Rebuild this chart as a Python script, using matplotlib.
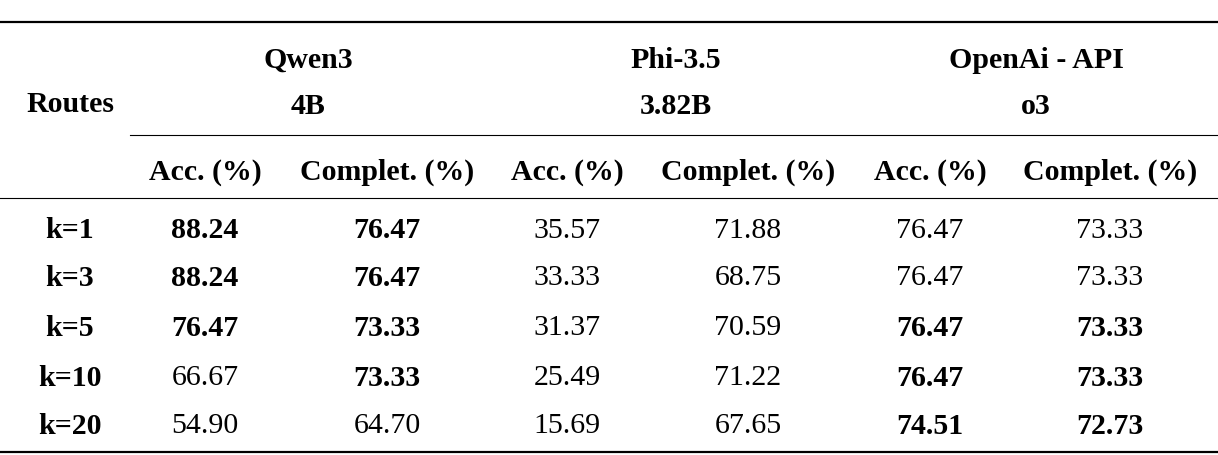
import matplotlib
matplotlib.use("Agg")
import matplotlib.pyplot as plt

routes = ["k=1", "k=3", "k=5", "k=10", "k=20"]
models = ["Qwen3", "Phi-3.5", "OpenAi - API"]
sizes = ["4B", "3.82B", "o3"]
sub_headers = ["Acc. (%)", "Complet. (%)"]

qwen_acc = [88.24, 88.24, 76.47, 66.67, 54.90]
qwen_comp = [76.47, 76.47, 73.33, 73.33, 64.70]
phi_acc = [35.57, 33.33, 31.37, 25.49, 15.69]
phi_comp = [71.88, 68.75, 70.59, 71.22, 67.65]
oai_acc = [76.47, 76.47, 76.47, 76.47, 74.51]
oai_comp = [73.33, 73.33, 73.33, 73.33, 72.73]

# bold flags, same order as columns
qwen_acc_b = [1, 1, 1, 0, 0]
qwen_comp_b = [1, 1, 1, 1, 0]
phi_acc_b = [0, 0, 0, 0, 0]
phi_comp_b = [0, 0, 0, 0, 0]
oai_acc_b = [0, 0, 1, 1, 1]
oai_comp_b = [0, 0, 1, 1, 1]

columns = [qwen_acc, qwen_comp, phi_acc, phi_comp, oai_acc, oai_comp]
bolds = [qwen_acc_b, qwen_comp_b, phi_acc_b, phi_comp_b, oai_acc_b, oai_comp_b]

plt.rcParams['font.family'] = ['Liberation Serif', 'DejaVu Serif']
fs = 21.5

fig = plt.figure(figsize=(12.18, 4.55), dpi=100)
ax = fig.add_axes([0, 0, 1, 1])
ax.set_xlim(0, 1218)
ax.set_ylim(455, 0)
ax.axis("off")

col_x = [205, 387, 567, 748, 930, 1110]
group_x = [308, 676, 1036]
row_y = [231, 278, 328, 378, 426]

# rules
ax.plot([0, 1218], [22, 22], color="black", lw=1.6)
ax.plot([130, 1218], [135, 135], color="black", lw=0.8)
ax.plot([0, 1218], [198, 198], color="black", lw=0.8)
ax.plot([0, 1218], [452, 452], color="black", lw=1.6)

ax.text(70, 105, "Routes", ha="center", va="center", fontsize=fs, weight="bold")
for gx, m, s in zip(group_x, models, sizes):
    ax.text(gx, 60, m, ha="center", va="center", fontsize=fs, weight="bold")
    ax.text(gx, 106, s, ha="center", va="center", fontsize=fs, weight="bold")
for i, cx in enumerate(col_x):
    ax.text(cx, 172, sub_headers[i % 2], ha="center", va="center", fontsize=fs, weight="bold")

for r, (name, ry) in enumerate(zip(routes, row_y)):
    ax.text(70, ry, name, ha="center", va="center", fontsize=fs, weight="bold")
    for c, cx in enumerate(col_x):
        ax.text(cx, ry, f"{columns[c][r]:.2f}", ha="center", va="center", fontsize=fs,
                weight="bold" if bolds[c][r] else "normal")

fig.savefig("out.png", dpi=100)
